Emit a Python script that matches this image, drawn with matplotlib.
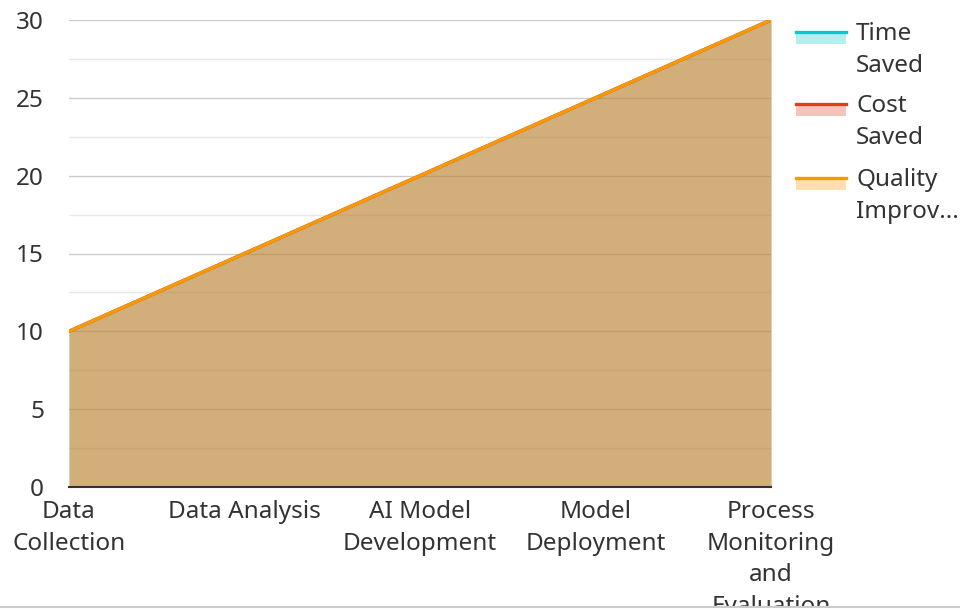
import matplotlib
matplotlib.use("Agg")
import matplotlib.pyplot as plt
from matplotlib.patches import Rectangle
from matplotlib.lines import Line2D
import numpy as np

plt.rcParams['font.family'] = ['Noto Sans', 'DejaVu Sans']

categories = ["Data\nCollection", "Data Analysis", "AI Model\nDevelopment",
              "Model\nDeployment", "Process\nMonitoring\nand\nEvaluation"]
series_names = ["Time\nSaved", "Cost\nSaved", "Quality\nImprov..."]
time_saved = [10, 15, 20, 25, 30]
cost_saved = [10, 15, 20, 25, 30]
quality_improv = [10, 15, 20, 25, 30]
colors = ["#00cccc", "#e03c1e", "#ff9800"]
yticks = [0, 5, 10, 15, 20, 25, 30]

FS = 17.5
W, H = 960, 612
fig = plt.figure(figsize=(9.6, 6.12), dpi=100)
ax = fig.add_axes([69 / W, 1 - 487 / H, (771 - 69) / W, (487 - 20) / H])

x = np.arange(len(categories))
for vals, c in zip([time_saved, cost_saved, quality_improv], colors):
    ax.fill_between(x, 0, vals, color=c, alpha=0.3, linewidth=0, zorder=2)
    ax.plot(x, vals, color=c, linewidth=2.4, zorder=3, solid_capstyle='round')

ax.set_xlim(0, len(categories) - 1)
ax.set_ylim(0, 30)
ax.set_yticks(yticks)
ax.set_yticks(np.arange(2.5, 30, 5), minor=True)
ax.set_xticks(x)
ax.set_xticklabels(categories, linespacing=1.42)
ax.grid(axis='y', which='major', color='#cccccc', linewidth=1, zorder=1)
ax.grid(axis='y', which='minor', color='#e8e8e8', linewidth=1, zorder=1)
ax.set_axisbelow(True)
for s in ['left', 'right', 'top']:
    ax.spines[s].set_visible(False)
ax.spines['bottom'].set_color('#333333')
ax.spines['bottom'].set_linewidth(1.5)
ax.spines['bottom'].set_zorder(4)
ax.tick_params(axis='both', which='both', length=0, labelsize=FS, colors='#333333')
ax.tick_params(axis='y', pad=18)
ax.tick_params(axis='x', pad=9.5)

# legend drawn manually
leg_y = [31, 103, 177]
for name, c, ly in zip(series_names, colors, leg_y):
    fig.add_artist(Rectangle((796 / W, 1 - (ly + 13) / H), 50 / W, 13 / H,
                             transform=fig.transFigure, facecolor=c, alpha=0.3,
                             edgecolor='none'))
    fig.add_artist(Line2D([796 / W, 846 / W], [1 - (ly + 1) / H] * 2,
                          transform=fig.transFigure, color=c, linewidth=2.4))
    fig.text(856 / W, 1 - (ly - 9) / H, name, fontsize=FS, color='#333333',
             va='top', ha='left', linespacing=1.42)

# bottom clipping band and separator line
fig.add_artist(Rectangle((0, 0), 1, 5 / H, transform=fig.transFigure,
                         facecolor='white', edgecolor='none', zorder=10))
fig.add_artist(Line2D([0, 1], [1 - 607 / H] * 2, transform=fig.transFigure,
                      color='#cccccc', linewidth=1.5, zorder=11))

fig.savefig("out.png", dpi=100)
